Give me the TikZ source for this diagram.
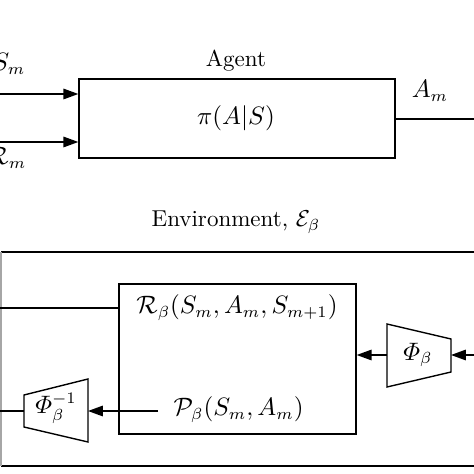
\documentclass[tikz,border=0pt]{standalone}
\usepackage{amsmath}
\usetikzlibrary{arrows.meta}
\begin{document}
\begin{tikzpicture}[x=0.4348pt,y=-0.4348pt,
  line width=0.6pt,
  arr/.style={-{Triangle[length=6.5pt,width=4.6pt]}},
  lbl/.style={inner sep=0pt},
  mlbl/.style={inner sep=0pt, font=\fontsize{10.7}{13}\selectfont},
  blockbox/.style={draw, inner sep=0pt}]
\useasboundingbox (0,0) rectangle (474,474);
\clip (0,0) rectangle (474,474);
% Agent
\node[blockbox, minimum width=316*0.4348pt, minimum height=79*0.4348pt] (agent) at (237,118.5) {};
\node[lbl] (agentlbl) at (236,61) {Agent};
\node[mlbl] (pi) at (236,118) {$\pi(A|S)$};
\coordinate (sin) at (0,94);
\coordinate (rin) at (0,142);
\coordinate (aout) at (480,119);
\draw[arr] (sin) -- (sin -| agent.west);
\draw[arr] (rin) -- (rin -| agent.west);
\draw (agent.east |- aout) -- (aout);
\node[mlbl, anchor=east] (slbl) at (26,64) {$S_m$};
\node[mlbl, anchor=east] (rlbl) at (27,158) {$\mathcal{R}_m$};
\node[mlbl] (albl) at (430,91) {$A_m$};
% Environment
\node[lbl] (envlbl) at (236,222) {Environment, $\mathcal{E}_\beta$};
\draw (1,252) -- (490,252);
\draw (1,466) -- (490,466);
\draw[gray!70] (1,252) -- (1,466);
\node[blockbox, minimum width=237*0.4348pt, minimum height=150*0.4348pt] (inner) at (237.5,359) {};
\node[mlbl] (rbeta) at (237,308) {$\mathcal{R}_\beta(S_m, A_m, S_{m+1})$};
\node[mlbl, anchor=west, inner xsep=6.5pt] (pbeta) at (158,410) {$\mathcal{P}_\beta(S_m, A_m)$};
\coordinate (rout) at (0,308);
\draw (rout) -- (rout -| inner.west);
% Phi_beta
\draw (387,324) -- (451,339) -- (451,372) -- (387,387) -- cycle;
\coordinate (phiL) at (387,355);
\coordinate (phiR) at (451,355);
\node[mlbl] (phi) at (418,355) {$\varPhi_\beta$};
\coordinate (phiin) at (480,355);
\draw[arr] (phiin) -- (phiR);
\draw[arr] (phiL) -- (phiL -| inner.east);
% Phi^-1_beta
\draw (24,395) -- (88,379) -- (88,442) -- (24,427) -- cycle;
\coordinate (piL) at (24,411);
\coordinate (piR) at (88,411);
\node[mlbl] (phiinv) at (56,408) {$\varPhi_\beta^{-1}$};
\coordinate (pout) at (0,411);
\draw[arr] (pbeta.west |- piR) -- (piR);
\draw (piL) -- (pout);
\end{tikzpicture}
\end{document}
